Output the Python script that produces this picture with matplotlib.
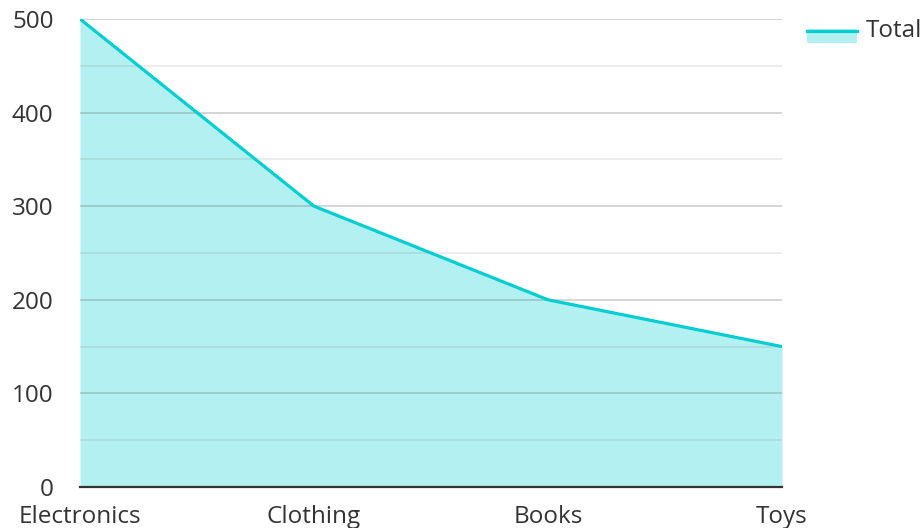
"""Area chart of totals by category."""
import matplotlib
matplotlib.use("Agg")
import matplotlib.pyplot as plt
from matplotlib.patches import Rectangle
from matplotlib.lines import Line2D

categories = ["Electronics", "Clothing", "Books", "Toys"]
totals = [500, 300, 200, 150]
y_major = [0, 100, 200, 300, 400, 500]
y_minor = [50, 150, 250, 350, 450]

line_color = "#00CED1"
font_size = 17.5

plt.rcParams["font.family"] = ["Open Sans", "DejaVu Sans"]

fig = plt.figure(figsize=(9.23, 5.28), dpi=100)
ax = fig.add_axes([80 / 923, 41 / 528, 702 / 923, 468 / 528])

x = list(range(len(categories)))
ax.fill_between(x, totals, 0, color=line_color, alpha=0.3, linewidth=0, zorder=1)
ax.plot(x, totals, color=line_color, linewidth=2.3, zorder=3, solid_capstyle="butt")

# grid drawn over the fill
for v in y_major[1:]:
	ax.axhline(v, color="#7a7a7a", alpha=0.4, linewidth=1.1, zorder=2)
for v in y_minor:
	ax.axhline(v, color="#7a7a7a", alpha=0.18, linewidth=1.1, zorder=2)

ax.set_xlim(0, len(categories) - 1)
ax.set_ylim(0, 500)
ax.set_xticks(x)
ax.set_xticklabels(categories)
ax.set_yticks(y_major)

ax.tick_params(axis="both", length=0, labelsize=font_size, labelcolor="#333333")
ax.tick_params(axis="y", pad=19)
ax.tick_params(axis="x", pad=13)

for side in ["left", "right", "top"]:
	ax.spines[side].set_visible(False)
ax.spines["bottom"].set_color("#333333")
ax.spines["bottom"].set_linewidth(1.6)
ax.spines["bottom"].set_zorder(4)

# legend, top right
W, H = 923, 528
fig.patches.append(Rectangle((807 / W, 1 - 43 / H), 50 / W, 14 / H,
	transform=fig.transFigure, facecolor=line_color, alpha=0.3, edgecolor="none"))
fig.lines.append(Line2D([807 / W, 857 / W], [1 - 30.5 / H, 1 - 30.5 / H],
	transform=fig.transFigure, color=line_color, linewidth=2.3))
fig.text(866 / W, 1 - 31 / H, "Total", fontsize=font_size, color="#333333", va="center", ha="left")

fig.savefig("out.png", dpi=100)
